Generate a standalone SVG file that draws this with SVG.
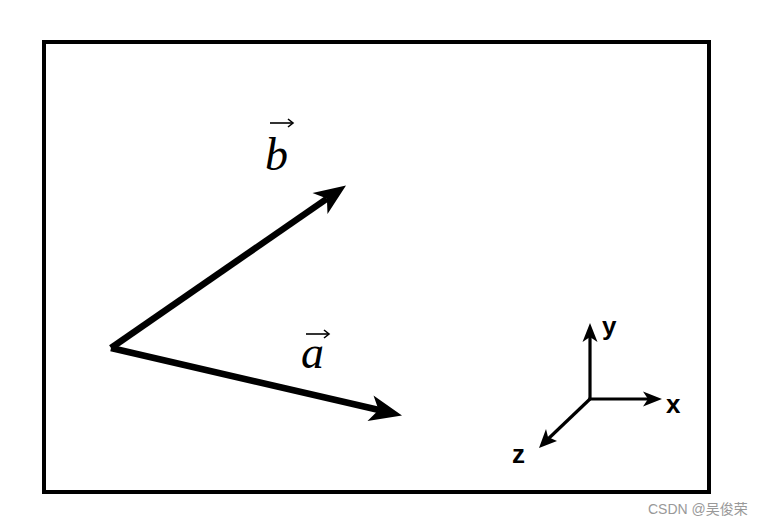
<svg xmlns="http://www.w3.org/2000/svg" width="764" height="526" viewBox="0 0 764 526">
<style>
.vec{stroke:#000;stroke-width:6.5;fill:none;stroke-linecap:butt}
.ax{stroke:#000;stroke-width:3.2;fill:none}
.head{fill:#000;stroke:none}
.math{font-family:"Liberation Serif","DejaVu Serif",serif;font-style:italic;font-size:46px;fill:#000}
.axl{font-family:"Liberation Sans",Arial,sans-serif;font-weight:bold;font-size:26px;fill:#000}
.wm{font-family:"Liberation Sans","Noto Sans CJK SC",sans-serif;font-size:14px;fill:#999}
</style>
<rect width="764" height="526" fill="#fff"/>
<rect id="frame" x="44" y="42" width="665" height="450" fill="none" stroke="#000" stroke-width="4"/>
<g id="connectors">
  <path class="vec" d="M111,348 L327,198.6"/>
  <polygon class="head" points="346,185.5 327.5,214 326.9,198.6 312.5,193"/>
  <path class="vec" d="M111,348 L379,410"/>
  <polygon class="head" points="402,415.5 367.5,421 378.6,410 373.5,395.5"/>
  <path class="ax" d="M590,400 L590,334"/>
  <polygon class="head" points="590,323 597.5,342 590,337 582.5,342"/>
  <path class="ax" d="M588.5,399 L651,399"/>
  <polygon class="head" points="662,399 643,406.5 648,399 643,391.5"/>
  <path class="ax" d="M590,399 L547,440"/>
  <polygon class="head" points="539,448 546,429 548,437 557,441"/>
</g>
<g id="label-b">
  <text class="math" x="265" y="170">b</text>
  <path d="M270,123 L292,123" stroke="#000" stroke-width="1.6"/>
  <path d="M288,119 L293,123 L288,127" stroke="#000" stroke-width="1.6" fill="none"/>
</g>
<g id="label-a">
  <text class="math" x="301" y="368">a</text>
  <path d="M306,334 L328,334" stroke="#000" stroke-width="1.6"/>
  <path d="M324,330 L329,334 L324,338" stroke="#000" stroke-width="1.6" fill="none"/>
</g>
<g id="axis-labels">
  <text class="axl" x="602" y="335">y</text>
  <text class="axl" x="666" y="413">x</text>
  <text class="axl" x="512" y="463">z</text>
</g>
<text class="wm" x="648" y="514">CSDN @吴俊荣</text>
</svg>
